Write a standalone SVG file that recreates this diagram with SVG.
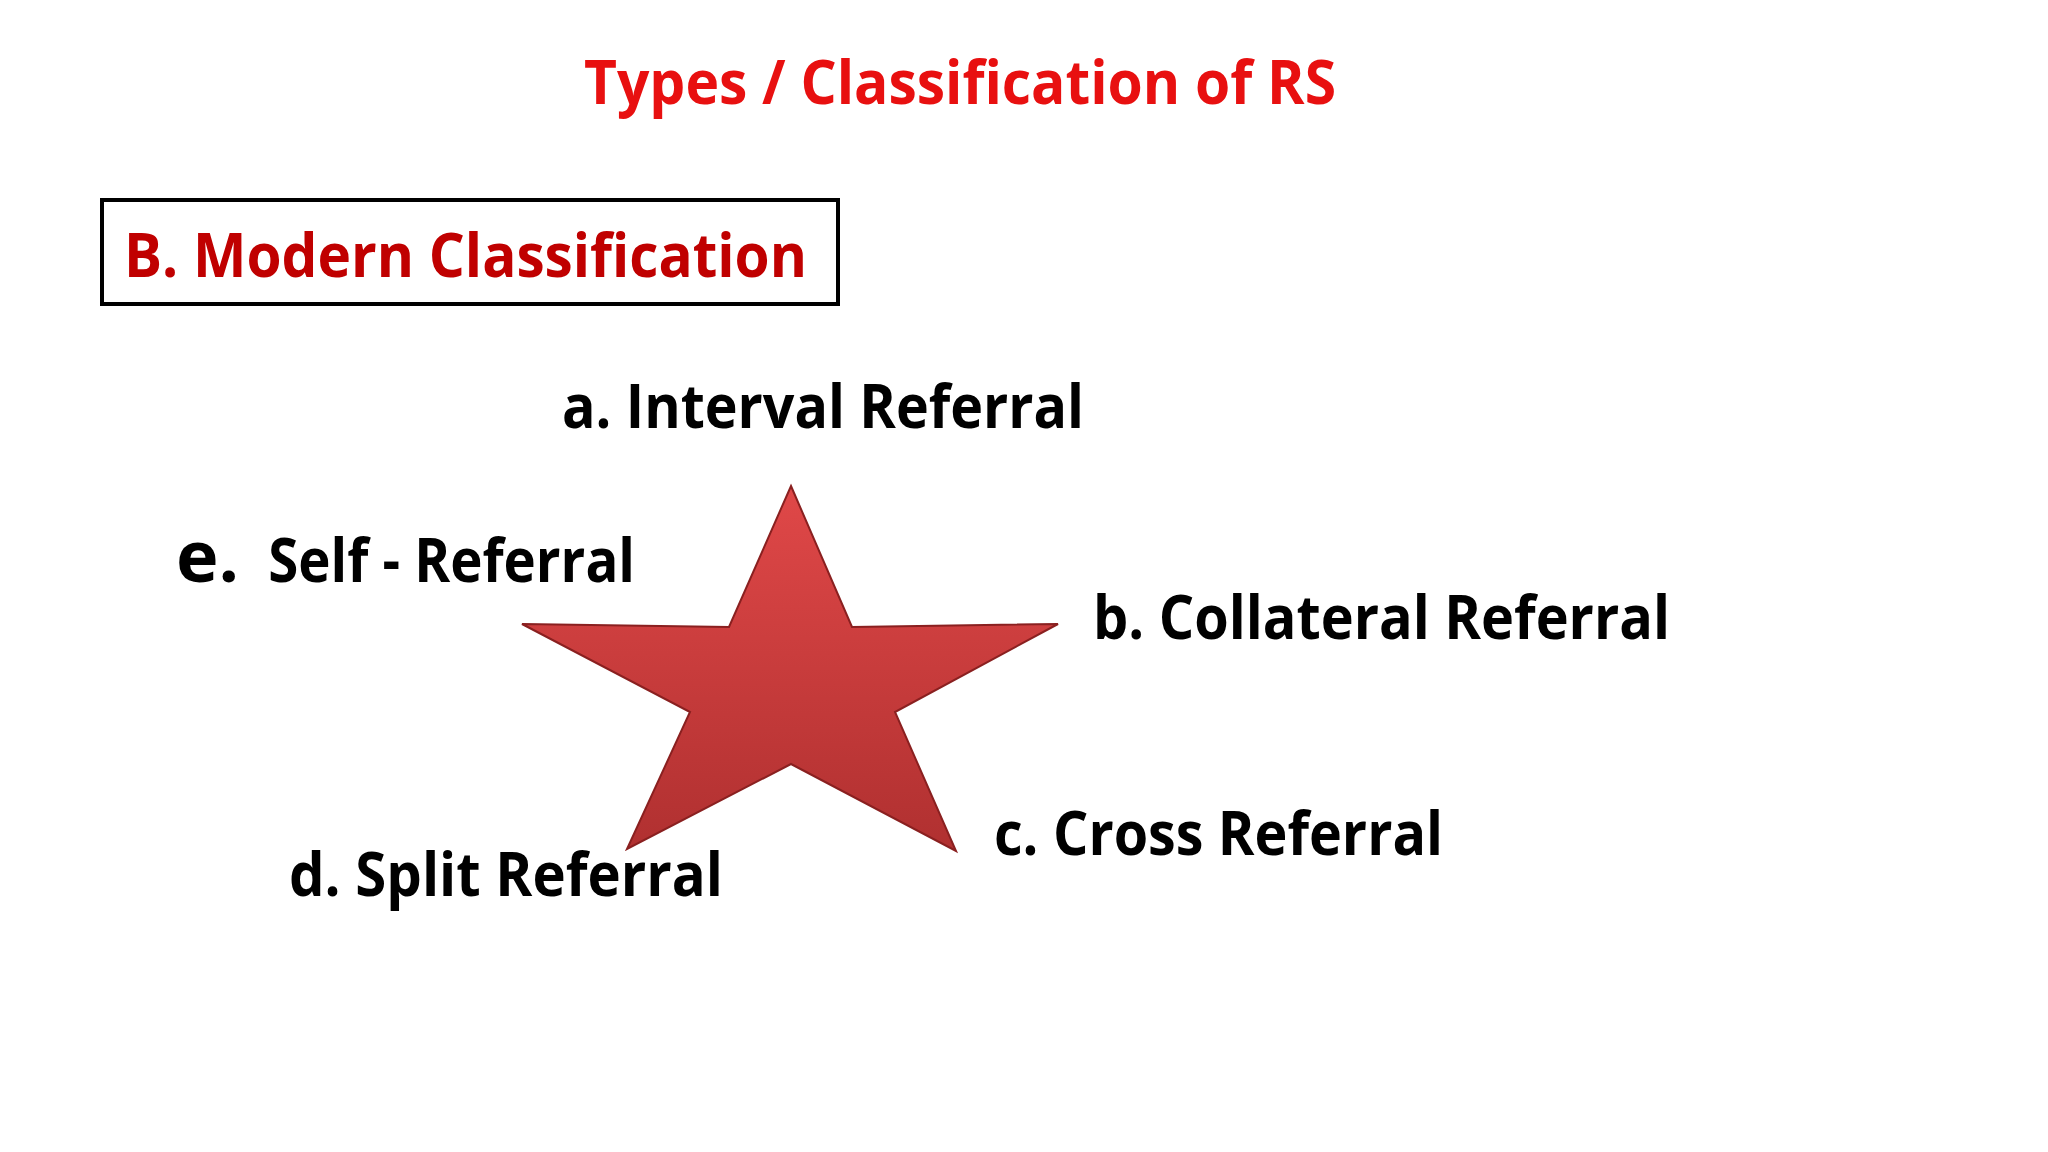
<svg xmlns="http://www.w3.org/2000/svg" width="2048" height="1152" viewBox="0 0 2048 1152">
<style>
text{font-family:"Open Sans","Liberation Sans",sans-serif;font-weight:bold;font-size:60px}
.l{fill:#000}
</style>
<defs>
<linearGradient id="g" x1="0" y1="0" x2="0" y2="1">
<stop offset="0" stop-color="#e04848"/><stop offset="1" stop-color="#b03030"/>
</linearGradient>
</defs>
<rect width="2048" height="1152" fill="#fff"/>
<text id="title" x="584" y="104" fill="#e81010" textLength="752" lengthAdjust="spacingAndGlyphs">Types / Classification of RS</text>
<g id="box">
<rect x="102" y="200" width="736" height="104" fill="#fff" stroke="#000" stroke-width="4"/>
<text x="124" y="277" fill="#c00000" textLength="683" lengthAdjust="spacingAndGlyphs">B. Modern Classification</text>
</g>
<g id="star">
<polygon points="791,486 852,627 1058,624 895,712 956,851 791,764 627,849 690,712 522,624 729,627" fill="url(#g)" stroke="#8a2020" stroke-width="2"/>
</g>
<g id="a"><text class="l" x="562" y="428" textLength="522" lengthAdjust="spacingAndGlyphs">a. Interval Referral</text></g>
<g id="e"><text class="l" x="176" y="582"><tspan font-size="72">e.</tspan><tspan x="254" textLength="381" lengthAdjust="spacingAndGlyphs"> Self - Referral</tspan></text></g>
<g id="b"><text class="l" x="1093" y="639" textLength="577" lengthAdjust="spacingAndGlyphs">b. Collateral Referral</text></g>
<g id="c"><text class="l" x="994" y="855" textLength="449" lengthAdjust="spacingAndGlyphs">c. Cross Referral</text></g>
<g id="d"><text class="l" x="289" y="896" textLength="434" lengthAdjust="spacingAndGlyphs">d. Split Referral</text></g>
<g id="connectors"/>
</svg>
